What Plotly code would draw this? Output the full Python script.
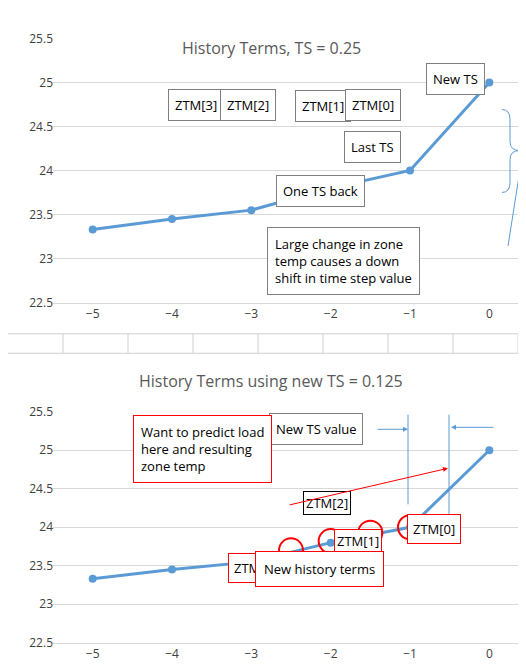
import plotly.graph_objects as go

steps = [-5, -4, -3, -2, -1, 0]
ztm = [23.33, 23.45, 23.55, 23.80, 24.00, 25.00]
new_x = [-2.5, -2, -1.5, -1]
new_y = [23.70, 23.82, 23.93, 24.00]
yticks = [22.5, 23, 23.5, 24, 24.5, 25, 25.5]

W, H = 526, 671
def px(x): return x / W
def py(y): return 1 - y / H

BLUE = "#5B9BD5"
fig = go.Figure()
fig.add_trace(go.Scatter(x=steps, y=ztm, mode="lines+markers", xaxis="x", yaxis="y",
                         line=dict(color=BLUE, width=3), marker=dict(size=8, color=BLUE)))
fig.add_trace(go.Scatter(x=steps, y=ztm, mode="lines+markers", xaxis="x2", yaxis="y2",
                         line=dict(color=BLUE, width=3), marker=dict(size=8, color=BLUE)))
fig.add_trace(go.Scatter(x=new_x, y=new_y, mode="markers", xaxis="x2", yaxis="y2",
                         marker=dict(size=24, color="rgba(0,0,0,0)", line=dict(color="red", width=2))))

ax = dict(range=[-5.5, 0.5], domain=[px(45), px(521)], tickvals=steps, showgrid=False,
          zeroline=False, showline=True, linecolor="#d9d9d9", ticks="",
          tickfont=dict(family="Open Sans", size=12, color="#404040"))
ay = dict(range=[22.5, 25.5], tickvals=yticks, ticktext=[str(v) for v in yticks], gridcolor="#d9d9d9",
          zeroline=False, showline=False, tickfont=dict(family="Open Sans", size=12, color="#404040"))
fig.update_layout(
    width=W, height=H, margin=dict(l=0, r=0, t=0, b=0), showlegend=False,
    plot_bgcolor="white", paper_bgcolor="white",
    xaxis=dict(ax, anchor="y"), yaxis=dict(ay, domain=[py(293), py(22)], anchor="free", position=px(45)),
    xaxis2=dict(ax, anchor="y2"), yaxis2=dict(ay, domain=[py(642), py(405)], anchor="free", position=px(45)),
)

anns = []
def box(text, x, y, color="#7f7f7f", align="center", pad=6):
    anns.append(dict(text=text, x=px(x), y=py(y), xref="paper", yref="paper", showarrow=False,
                     bordercolor=color, borderwidth=1, borderpad=pad, bgcolor="white", align=align,
                     font=dict(family="Open Sans", size=13, color="black")))
def title(text, y):
    anns.append(dict(text=text, x=0.5, y=py(y), xref="paper", yref="paper", showarrow=False,
                     font=dict(family="Open Sans", size=16, color="#595959")))
title("History Terms, TS = 0.25", 18)
title("History Terms using new TS = 0.125", 373)
box("ZTM[3]", 160, 74); box("ZTM[2]", 240, 74); box("ZTM[1]", 315, 75); box("ZTM[0]", 393, 74)
box("New TS", 477, 47); box("Last TS", 393, 117); box("One TS back", 312, 162)
box("Large change in zone<br>temp causes a down<br>shift in time step value", 412, 250, align="left", pad=7)
box("New TS value", 308, 423)
box("Want to predict load<br>here and resulting<br>zone temp", 194, 478, color="red", align="left", pad=7)
box("ZTM[2]", 319, 511, color="black", pad=2)
box("ZTM[1]", 374, 550, color="red", pad=2)
box("ZTM[0]", 453, 541, color="red", pad=5)
box("ZTM[3]", 247, 581, color="red", pad=5)
box("New history terms", 376, 585, color="red", pad=8)
def arrow(x0, y0, x1, y1, color):
    anns.append(dict(x=px(x1), y=py(y1), ax=x0 - x1, ay=y0 - y1, xref="paper", yref="paper",
                     axref="pixel", ayref="pixel", showarrow=True, arrowhead=2, arrowsize=1,
                     arrowwidth=1, arrowcolor=color, text=""))
arrow(368, 423, 400, 423, BLUE)
arrow(487, 421, 443, 421, BLUE)
arrow(280, 500, 440, 463, "red")
fig.update_layout(annotations=anns)

shapes = []
def line(x0, y0, x1, y1, color=BLUE, w=1):
    shapes.append(dict(type="line", xref="paper", yref="paper", x0=px(x0), y0=py(y0),
                       x1=px(x1), y1=py(y1), line=dict(color=color, width=w)))
line(400, 408, 400, 500); line(441, 408, 441, 515)
shapes.append(dict(type="path", xref="paper", yref="paper",
                   path=f"M {px(494)} {py(95)} Q {px(502)} {py(95)} {px(502)} {py(105)} L {px(502)} {py(128)} "
                        f"Q {px(502)} {py(137)} {px(512)} {py(137)} Q {px(502)} {py(137)} {px(502)} {py(146)} "
                        f"L {px(502)} {py(170)} Q {px(502)} {py(180)} {px(494)} {py(180)}",
                   line=dict(color=BLUE, width=1)))
line(515, 137, 500, 235)
for y in [325, 345]:
    line(0, y, 526, y, "#d0d0d0")
for x in [55, 120, 185, 250, 315, 380, 445, 510]:
    line(x, 325, x, 345, "#d0d0d0")
fig.update_layout(shapes=shapes)
fig.write_html("out.html")
